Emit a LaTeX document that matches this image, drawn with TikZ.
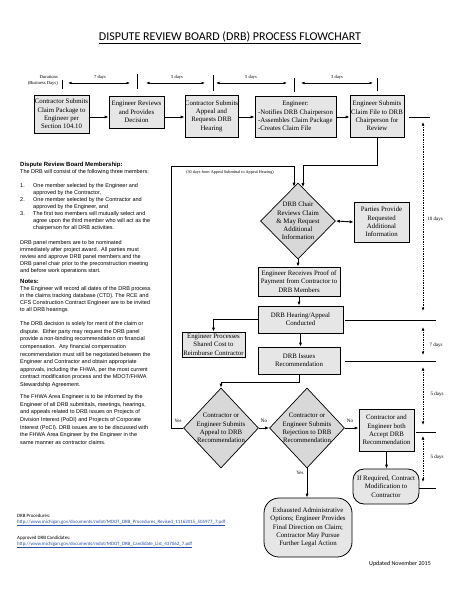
\documentclass[tikz,border=0pt]{standalone}
\usepackage{fontspec}
\setmainfont{Liberation Serif}
\newfontfamily\arialf{Liberation Sans}
\newfontfamily\calf{Carlito}
\usetikzlibrary{shapes.geometric,arrows.meta,calc}
\definecolor{boxgray}{RGB}{230,230,230}
\definecolor{diagray}{RGB}{216,216,216}
\definecolor{linkblue}{RGB}{40,80,170}
\begin{document}
\begin{tikzpicture}[x=1pt,y=-1pt,
  box/.style={draw,fill=boxgray,line width=0.8pt,inner sep=0pt,align=center,font=\fontsize{6.8}{8.3}\selectfont},
  rbox/.style={box,rounded corners=11pt},
  dia/.style={draw,fill=diagray,diamond,line width=0.7pt,inner sep=0pt},
  dtext/.style={align=center,inner sep=0pt,font=\fontsize{6.8}{8.3}\selectfont},
  arr/.style={-{Latex[length=4pt,width=3.2pt]},line width=0.9pt},
  darr/.style={{Latex[length=4pt,width=3.2pt]}-{Latex[length=4pt,width=3.2pt]},line width=0.9pt},
  durarr/.style={{Latex[length=3.5pt,width=2.6pt]}-{Latex[length=3.5pt,width=2.6pt]},line width=0.6pt},
  vdur/.style={{Latex[length=3.5pt,width=2.8pt]}-{Latex[length=3.5pt,width=2.8pt]},line width=0.7pt,densely dotted},
  tick/.style={line width=0.7pt},
  small/.style={inner sep=0pt,font=\fontsize{4.6}{5.5}\selectfont},
  lbl/.style={inner sep=0pt,font=\fontsize{5}{6}\selectfont},
  txt/.style={anchor=north west,align=left,inner sep=0pt,font=\arialf\fontsize{5.5}{7.6}\selectfont},
  txtb/.style={anchor=north west,align=left,inner sep=0pt,font=\arialf\fontsize{5.5}{7}\selectfont},
  lnk/.style={anchor=west,inner sep=0pt,font=\calf\fontsize{4.9}{6}\selectfont}]
\useasboundingbox[fill=white] (0,0) rectangle (463,599);

% title
\node[inner sep=0pt,font=\calf\fontsize{12}{14}\selectfont] (title) at (230,38) {\underline{DISPUTE REVIEW BOARD (DRB) PROCESS FLOWCHART}};

% durations row
\node[small,align=right,anchor=east] (durl) at (58,80.5) {Durations\\(Business Days)};
\draw[line width=0.4pt] (62,80) -- (62,89);
\draw[durarr] (68,83) -- (130,83);
\node[small] (d7) at (100,77) {7 days};
\draw[tick] (137,74) -- (137,89);
\draw[durarr] (146,83) -- (205,83);
\node[small] (d5a) at (177,77) {5 days};
\draw[tick] (213,75) -- (213,91);
\draw[durarr] (216,83) -- (287,83);
\node[small] (d5b) at (251,77) {5 days};
\draw[tick] (294,78) -- (294,92);
\draw[durarr] (301,83) -- (373,83);
\node[small] (d3) at (337,77) {3 days};
\draw[tick] (377,78) -- (377,91);

% top row of boxes
\node[box,minimum width=55pt,minimum height=38pt] (b1) at (61.5,114) {Contractor Submits\\Claim Package to\\Engineer per\\Section 104.10};
\node[box,minimum width=55pt,minimum height=32pt] (b2) at (136.5,112) {Engineer Reviews\\and Provides\\Decision};
\node[box,minimum width=52pt,minimum height=42pt] (b3) at (211.5,116) {Contractor Submits\\Appeal and\\Requests DRB\\Hearing};
\node[box,minimum width=81pt,minimum height=41pt] (b4) at (295.5,116.5) {\begin{tabular}{@{}l@{}}\multicolumn{1}{@{}c@{}}{Engineer:}\\-Notifies DRB Chairperson\\-Assembles Claim Package\\-Creates Claim File\end{tabular}};
\node[box,minimum width=54pt,minimum height=42pt] (b5) at (377,116) {Engineer Submits\\Claim File to DRB\\Chairperson for\\Review};

\draw[arr] (b1.east |- 0,117) -- (b2.west |- 0,117);
\draw[arr] (b2.east |- 0,117) -- (b3.west |- 0,117);
\draw[arr] (b3.east |- 0,117) -- (b4.west |- 0,117);
\draw[arr] (b4.east |- 0,117) -- (b5.west |- 0,117);

% DRB chair diamond
\node[dia,minimum width=75pt,minimum height=76pt] (d1) at (298,221) {};
\node[dtext] (d1t) at (d1) {DRB Chair\\Reviews Claim\\\& May Request\\Additional\\Information};
\node[box,minimum width=55pt,minimum height=40pt] (p1) at (381.5,222) {Parties Provide\\Requested\\Additional\\Information};
\draw[darr] (d1.east) -- (p1.west);
\node[inner sep=0pt,font=\fontsize{4.2}{5}\selectfont] (note30) at (230,172) {(30 days from Appeal Submittal to Appeal Hearing)};

\draw[arr] (b5.south) |- ($(d1.north)+(5,-17)$) -- ($(d1.north)+(5,4.5)$);

\node[box,minimum width=82pt,minimum height=29pt] (e1) at (299,281.5) {Engineer Receives Proof of\\Payment from Contractor to\\DRB Members};
\node[box,minimum width=85pt,minimum height=27pt] (h1) at (300.5,319.5) {DRB Hearing/Appeal\\Conducted};
\node[box,minimum width=63pt,minimum height=25pt] (s1) at (213.5,344.5) {Engineer Processes\\Shared Cost to\\Reimburse Contractor};
\node[box,minimum width=82pt,minimum height=27pt] (r1) at (299,360.5) {DRB Issues\\Recommendation};

\draw[arr] (d1.south) -- (d1.south |- e1.north);
\draw[arr] (e1.south) -- (e1.south |- h1.north);
\draw[arr] (h1.west) -| (s1.north);
\draw[arr] (h1.south) -- (h1.south |- r1.north);

% decision diamonds
\node[dia,minimum width=75pt,minimum height=80pt] (dA) at (221,428) {};
\node[dtext] (dAt) at (dA) {Contractor or\\Engineer Submits\\Appeal to DRB\\Recommendation};
\node[dia,minimum width=75pt,minimum height=80pt] (dB) at (307,428) {};
\node[dtext] (dBt) at (dB) {Contractor or\\Engineer Submits\\Rejection to DRB\\Recommendation};
\node[box,minimum width=55pt,minimum height=42pt] (c1) at (386.5,430) {Contractor and\\Engineer both\\Accept DRB\\Recommendation};
\node[rbox,minimum width=66pt,minimum height=35pt] (m1) at (386,486.5) {If Required, Contract\\Modification to\\Contractor};
\node[rbox,rounded corners=15pt,minimum width=88pt,minimum height=59pt] (x1) at (308,527.5) {Exhausted Administrative\\Options; Engineer Provides\\Final Direction on Claim;\\Contractor May Pursue\\Further Legal Action};

\draw[arr] (r1.south) -- ++(0,8) -| (dA.north);
\draw[arr] (dA.east) -- (dB.west);
\draw[arr] (dB.east) -- (c1.west |- dB.east);
\draw[arr] (dB.south) -- (dB.south |- x1.north);
\draw[arr] (c1.south) -- (c1.south |- m1.north);
\draw[arr] (dA.west) -- ++(-12,0) |- ($(d1.north)+(-4,-16)$) -- ($(d1.north)+(-4,4)$);

\node[lbl] (yesA) at (178,421) {Yes};
\node[lbl] (noA) at (264,421) {No};
\node[lbl] (noB) at (350,421) {No};
\node[lbl] (yesB) at (300,473) {Yes};

% right-hand durations
\draw[tick] (409,117) -- (430,117);
\draw[vdur] (423,122) -- (423,311);
\node[lbl] (t10) at (435,219) {10 days};
\draw[tick] (345,320) -- (436,320);
\draw[vdur] (423,327) -- (423,355);
\node[lbl] (t7) at (436,345) {7 days};
\draw[tick] (345,361) -- (436,361);
\draw[vdur] (423,367) -- (423,425);
\node[lbl] (t5a) at (437,394) {5 days};
\draw[tick] (416,432) -- (436,432);
\draw[vdur] (423,436) -- (423,482);
\node[lbl] (t5b) at (437,457) {5 days};
\draw[tick] (419,488) -- (436,488);

% left text
\node[txtb] (mem) at (20,162) {{\fontsize{6}{7}\selectfont\textbf{Dispute Review Board Membership:}}\\The DRB will consist of the following three members:};
\node[txtb] (list) at (20,182.5) {\begin{tabular}{@{}p{13pt}@{}l@{}}1. & One member selected by the Engineer and\\ & approved by the Contractor,\\2. & One member selected by the Contractor and\\ & approved by the Engineer, and\\3. & The first two members will mutually select and\\ & agree upon the third member who will act as the\\ & chairperson for all DRB activities.\end{tabular}};
\node[txtb] (panel) at (20,240.5) {DRB panel members are to be nominated\\immediately after project award.\ \ All parties must\\review and approve DRB panel members and the\\DRB panel chair prior to the preconstruction meeting\\and before work operations start.};
\node[txtb] (notes) at (20,279.5) {{\fontsize{6}{7}\selectfont\textbf{Notes:}}\\The Engineer will record all dates of the DRB process\\in the claims tracking database (CTD). The RCE and\\CFS Construction Contract Engineer are to be invited\\to all DRB hearings};
\node[txt] (decis) at (20,321.5) {The DRB decision is solely for merit of the claim or\\dispute.\ \ Either party may request the DRB panel\\provide a non-binding recommendation on financial\\compensation.\ \ Any financial compensation\\recommendation must still be negotiated between the\\Engineer and Contractor and obtain appropriate\\approvals, including the FHWA, per the most current\\contract modification process and the MDOT/FHWA\\Stewardship Agreement.};
\node[txt] (fhwa) at (20,394.5) {The FHWA Area Engineer is to be informed by the\\Engineer of all DRB submittals, meetings, hearings,\\and appeals related to DRB issues on Projects of\\Division Interest (PoDI) and Projects of Corporate\\Interest (PoCI). DRB issues are to be discussed with\\the FHWA Area Engineer by the Engineer in the\\same manner as contractor claims.};

% links
\node[lnk] (lp) at (17,516) {DRB Procedures:};
\node[lnk,text=linkblue] (lpu) at (17,523) {\underline{http://www.michigan.gov/documents/mdot/MDOT\_DRB\_Procedures\_Revised\_11162015\_505977\_7.pdf}};
\node[lnk] (lc) at (17,538) {Approved DRB Candidates:};
\node[lnk,text=linkblue] (lcu) at (17,545) {\underline{http://www.michigan.gov/documents/mdot/MDOT\_DRB\_Candidate\_List\_437062\_7.pdf}};

\node[inner sep=0pt,font=\calf\fontsize{6}{7}\selectfont] (upd) at (400,564) {Updated November 2015};
\end{tikzpicture}
\end{document}
